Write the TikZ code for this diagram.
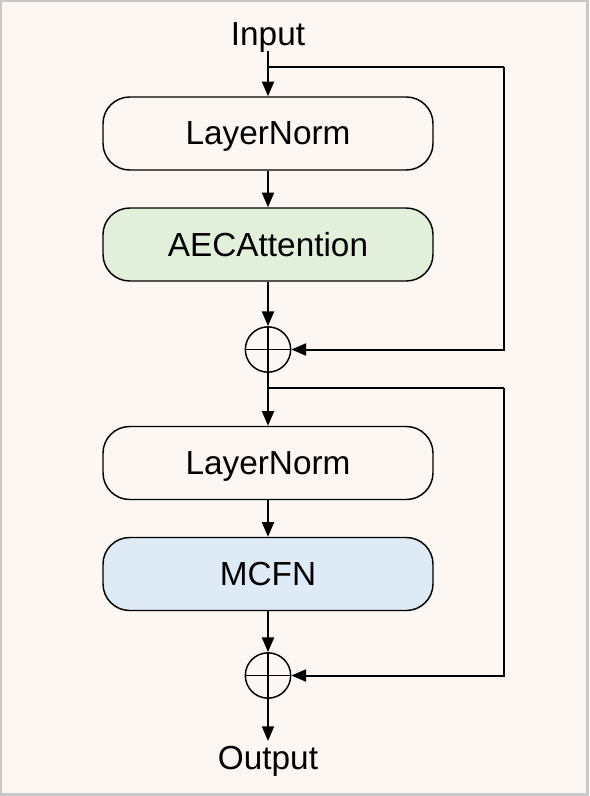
\documentclass[tikz,border=0pt]{standalone}
\usepackage{fontspec}
\setmainfont{Liberation Sans}
\usetikzlibrary{arrows.meta}
\definecolor{bgc}{HTML}{FCF7F3}
\definecolor{framec}{HTML}{C8C8C8}
\definecolor{greenf}{HTML}{E2EFDA}
\definecolor{bluef}{HTML}{DEEAF6}
\tikzset{
  px/.style={x=0.75pt,y=-0.75pt},
  blk/.style={draw=black, line width=1.1pt, rounded corners=20pt, minimum width=247.5pt, minimum height=54.75pt, inner sep=0pt, text depth=0pt, font=\fontsize{25}{29}\selectfont},
  lbl/.style={font=\fontsize{25}{29}\selectfont, inner sep=0pt, text depth=0pt},
  addnode/.style={draw=black, line width=1.1pt, circle, minimum size=34pt, inner sep=0pt,
    path picture={\draw[line width=1.1pt] (path picture bounding box.north) -- (path picture bounding box.south) (path picture bounding box.west) -- (path picture bounding box.east);}},
  conn/.style={line width=1.5pt, -{Triangle[length=11pt,width=9pt]}},
  wire/.style={line width=1.5pt},
}
\begin{document}
\begin{tikzpicture}[px]
\fill[framec] (0,0) rectangle (589,796);
\fill[bgc] (2,2) rectangle (586,793);
\useasboundingbox (0,0) rectangle (589,796);
\node[lbl] (in) at (268,34) {Input};
\node[blk] (ln1) at (268,133.5) {LayerNorm};
\node[blk, fill=greenf] (att) at (268,244.5) {AECAttention};
\node[addnode] (add1) at (268,349.5) {};
\node[blk] (ln2) at (268,463) {LayerNorm};
\node[blk, fill=bluef] (mcfn) at (268,574) {MCFN};
\node[addnode] (add2) at (268,675.5) {};
\node[lbl] (out) at (268,758) {Output};
\coordinate (b1) at (268,67);
\coordinate (r1) at (504,67);
\coordinate (b2) at (268,388);
\coordinate (r2) at (504,388);
\draw[conn] (268,51) -- (ln1.north);
\draw[conn] (ln1) -- (att);
\draw[conn] (att) -- (add1);
\draw[conn] (add1) -- (ln2);
\draw[conn] (ln2) -- (mcfn);
\draw[conn] (mcfn) -- (add2);
\draw[conn] (add2) -- (268,741);
\draw[wire] (b1) -- (r1);
\draw[conn] (r1) |- (add1.east);
\draw[wire] (b2) -- (r2);
\draw[conn] (r2) |- (add2.east);
\end{tikzpicture}
\end{document}
